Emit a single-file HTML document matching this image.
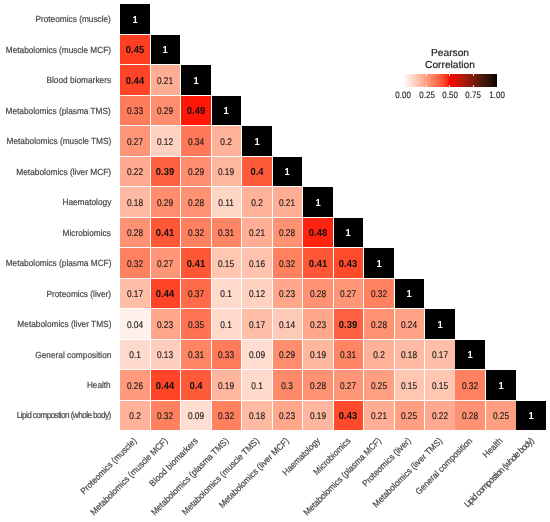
<!DOCTYPE html>
<html><head><meta charset="utf-8"><title>Pearson Correlation</title>
<style>
html,body{margin:0;padding:0;background:#fff;}
body{width:550px;height:522px;position:relative;overflow:hidden;font-family:"Liberation Sans",sans-serif;text-rendering:geometricPrecision;}
.c{position:absolute;width:29.685px;height:29.685px;}
.c span{position:absolute;left:50%;white-space:nowrap;font-size:9.8px;line-height:12px;height:12px;color:#1a1a1a;transform:translateX(-50%) scaleX(0.85);-webkit-text-stroke:0.15px #1a1a1a;}
.c.b span{font-weight:bold;font-size:10.1px;color:#0d0d0d;transform:translateX(-50%) scaleX(0.93);-webkit-text-stroke:0;}
.c.d{background:#000;}
.c.d span{color:#fff;}
.yl,.xl{-webkit-text-stroke:0.2px #474747;}
.yl{position:absolute;right:439.00px;white-space:nowrap;font-size:8.9px;line-height:12px;height:12px;color:#474747;transform-origin:100% 50%;}
.xl{position:absolute;white-space:nowrap;font-size:8.9px;line-height:12px;height:12px;color:#474747;transform-origin:100% 0;transform:rotate(-45deg);}
.xl span{display:inline-block;transform-origin:100% 50%;}
.lt{-webkit-text-stroke:0.2px #1f1f1f;position:absolute;left:400px;width:100px;text-align:center;font-size:10.2px;line-height:12.2px;color:#1f1f1f;}
.bar{position:absolute;left:403.0px;top:73.6px;width:93.6px;height:13.6px;background:linear-gradient(to right,#ffffff 0.0%,#fff5f2 2.5%,#ffece5 5.0%,#ffe2d8 7.5%,#ffd9cb 10.0%,#ffcfbf 12.5%,#ffc6b2 15.0%,#ffbca6 17.5%,#ffb299 20.0%,#ffa88d 22.5%,#ff9e81 25.0%,#ff9475 27.5%,#ff8969 30.0%,#ff7e5e 32.5%,#ff7352 35.0%,#ff6846 37.5%,#ff5b3a 40.0%,#ff4d2e 42.5%,#ff3e22 45.0%,#ff2913 47.5%,#ff0000 50.0%,#f10902 52.5%,#e31004 55.0%,#d51406 57.5%,#c81708 60.0%,#bb1909 62.5%,#ad1a0a 65.0%,#a01b0b 67.5%,#931b0b 70.0%,#871b0c 72.5%,#7a1b0c 75.0%,#6e1a0c 77.5%,#62190c 80.0%,#56180b 82.5%,#4b160a 85.0%,#3f1508 87.5%,#341307 90.0%,#2a1005 92.5%,#200c03 95.0%,#150602 97.5%,#000000 100.0%);}
.tk{position:absolute;width:1px;background:#fff;opacity:.85;}
.ll{-webkit-text-stroke:0.15px #1f1f1f;position:absolute;width:30px;text-align:center;font-size:9.4px;line-height:12px;color:#1f1f1f;top:89.04px;}
.ll span{display:inline-block;transform:scaleX(0.85);}
</style></head><body>

<div class="c b d" style="left:120.15px;top:4.25px"><span style="top:10.55px">1</span></div>
<div class="c b" style="left:120.15px;top:34.73px;background:#ff3e22"><span style="top:10.07px">0.45</span></div>
<div class="c b d" style="left:150.64px;top:34.73px"><span style="top:10.07px">1</span></div>
<div class="c b" style="left:120.15px;top:65.22px;background:#ff4427"><span style="top:10.58px">0.44</span></div>
<div class="c" style="left:150.64px;top:65.22px;background:#ffae95"><span style="top:10.68px">0.21</span></div>
<div class="c b d" style="left:181.12px;top:65.22px"><span style="top:10.58px">1</span></div>
<div class="c" style="left:120.15px;top:95.70px;background:#ff7c5b"><span style="top:10.20px">0.33</span></div>
<div class="c" style="left:150.64px;top:95.70px;background:#ff8d6e"><span style="top:10.20px">0.29</span></div>
<div class="c b" style="left:181.12px;top:95.70px;background:#ff1708"><span style="top:10.10px">0.49</span></div>
<div class="c b d" style="left:211.60px;top:95.70px"><span style="top:10.10px">1</span></div>
<div class="c" style="left:120.15px;top:126.19px;background:#ff9678"><span style="top:10.71px">0.27</span></div>
<div class="c" style="left:150.64px;top:126.19px;background:#ffd1c1"><span style="top:10.71px">0.12</span></div>
<div class="c" style="left:181.12px;top:126.19px;background:#ff7857"><span style="top:10.71px">0.34</span></div>
<div class="c" style="left:211.60px;top:126.19px;background:#ffb299"><span style="top:10.71px">0.2</span></div>
<div class="c b d" style="left:242.09px;top:126.19px"><span style="top:10.61px">1</span></div>
<div class="c" style="left:120.15px;top:156.68px;background:#ffaa90"><span style="top:10.23px">0.22</span></div>
<div class="c b" style="left:150.64px;top:156.68px;background:#ff603f"><span style="top:10.13px">0.39</span></div>
<div class="c" style="left:181.12px;top:156.68px;background:#ff8d6e"><span style="top:10.23px">0.29</span></div>
<div class="c" style="left:211.60px;top:156.68px;background:#ffb69e"><span style="top:10.23px">0.19</span></div>
<div class="c b" style="left:242.09px;top:156.68px;background:#ff5b3a"><span style="top:10.13px">0.4</span></div>
<div class="c b d" style="left:272.57px;top:156.68px"><span style="top:10.13px">1</span></div>
<div class="c" style="left:120.15px;top:187.16px;background:#ffbaa3"><span style="top:10.74px">0.18</span></div>
<div class="c" style="left:150.64px;top:187.16px;background:#ff8d6e"><span style="top:10.74px">0.29</span></div>
<div class="c" style="left:181.12px;top:187.16px;background:#ff9273"><span style="top:10.74px">0.28</span></div>
<div class="c" style="left:211.60px;top:187.16px;background:#ffd5c6"><span style="top:10.74px">0.11</span></div>
<div class="c" style="left:242.09px;top:187.16px;background:#ffb299"><span style="top:10.74px">0.2</span></div>
<div class="c" style="left:272.57px;top:187.16px;background:#ffae95"><span style="top:10.74px">0.21</span></div>
<div class="c b d" style="left:303.06px;top:187.16px"><span style="top:10.64px">1</span></div>
<div class="c" style="left:120.15px;top:217.64px;background:#ff9273"><span style="top:10.26px">0.28</span></div>
<div class="c b" style="left:150.64px;top:217.64px;background:#ff5636"><span style="top:10.16px">0.41</span></div>
<div class="c" style="left:181.12px;top:217.64px;background:#ff8160"><span style="top:10.26px">0.32</span></div>
<div class="c" style="left:211.60px;top:217.64px;background:#ff8565"><span style="top:10.26px">0.31</span></div>
<div class="c" style="left:242.09px;top:217.64px;background:#ffae95"><span style="top:10.26px">0.21</span></div>
<div class="c" style="left:272.57px;top:217.64px;background:#ff9273"><span style="top:10.26px">0.28</span></div>
<div class="c b" style="left:303.06px;top:217.64px;background:#ff2410"><span style="top:10.16px">0.48</span></div>
<div class="c b d" style="left:333.54px;top:217.64px"><span style="top:10.16px">1</span></div>
<div class="c" style="left:120.15px;top:248.13px;background:#ff8160"><span style="top:10.77px">0.32</span></div>
<div class="c" style="left:150.64px;top:248.13px;background:#ff9678"><span style="top:10.77px">0.27</span></div>
<div class="c b" style="left:181.12px;top:248.13px;background:#ff5636"><span style="top:10.67px">0.41</span></div>
<div class="c" style="left:211.60px;top:248.13px;background:#ffc6b2"><span style="top:10.77px">0.15</span></div>
<div class="c" style="left:242.09px;top:248.13px;background:#ffc2ad"><span style="top:10.77px">0.16</span></div>
<div class="c" style="left:272.57px;top:248.13px;background:#ff8160"><span style="top:10.77px">0.32</span></div>
<div class="c b" style="left:303.06px;top:248.13px;background:#ff5636"><span style="top:10.67px">0.41</span></div>
<div class="c b" style="left:333.54px;top:248.13px;background:#ff4a2c"><span style="top:10.67px">0.43</span></div>
<div class="c b d" style="left:364.03px;top:248.13px"><span style="top:10.67px">1</span></div>
<div class="c" style="left:120.15px;top:278.62px;background:#ffbea8"><span style="top:10.29px">0.17</span></div>
<div class="c b" style="left:150.64px;top:278.62px;background:#ff4427"><span style="top:10.19px">0.44</span></div>
<div class="c" style="left:181.12px;top:278.62px;background:#ff6a49"><span style="top:10.29px">0.37</span></div>
<div class="c" style="left:211.60px;top:278.62px;background:#ffd9cb"><span style="top:10.29px">0.1</span></div>
<div class="c" style="left:242.09px;top:278.62px;background:#ffd1c1"><span style="top:10.29px">0.12</span></div>
<div class="c" style="left:272.57px;top:278.62px;background:#ffa68b"><span style="top:10.29px">0.23</span></div>
<div class="c" style="left:303.06px;top:278.62px;background:#ff9273"><span style="top:10.29px">0.28</span></div>
<div class="c" style="left:333.54px;top:278.62px;background:#ff9678"><span style="top:10.29px">0.27</span></div>
<div class="c" style="left:364.03px;top:278.62px;background:#ff8160"><span style="top:10.29px">0.32</span></div>
<div class="c b d" style="left:394.51px;top:278.62px"><span style="top:10.19px">1</span></div>
<div class="c" style="left:120.15px;top:309.10px;background:#fff0ea"><span style="top:10.80px">0.04</span></div>
<div class="c" style="left:150.64px;top:309.10px;background:#ffa68b"><span style="top:10.80px">0.23</span></div>
<div class="c" style="left:181.12px;top:309.10px;background:#ff7352"><span style="top:10.80px">0.35</span></div>
<div class="c" style="left:211.60px;top:309.10px;background:#ffd9cb"><span style="top:10.80px">0.1</span></div>
<div class="c" style="left:242.09px;top:309.10px;background:#ffbea8"><span style="top:10.80px">0.17</span></div>
<div class="c" style="left:272.57px;top:309.10px;background:#ffc9b7"><span style="top:10.80px">0.14</span></div>
<div class="c" style="left:303.06px;top:309.10px;background:#ffa68b"><span style="top:10.80px">0.23</span></div>
<div class="c b" style="left:333.54px;top:309.10px;background:#ff603f"><span style="top:10.70px">0.39</span></div>
<div class="c" style="left:364.03px;top:309.10px;background:#ff9273"><span style="top:10.80px">0.28</span></div>
<div class="c" style="left:394.51px;top:309.10px;background:#ffa286"><span style="top:10.80px">0.24</span></div>
<div class="c b d" style="left:425.00px;top:309.10px"><span style="top:10.70px">1</span></div>
<div class="c" style="left:120.15px;top:339.58px;background:#ffd9cb"><span style="top:10.32px">0.1</span></div>
<div class="c" style="left:150.64px;top:339.58px;background:#ffcdbc"><span style="top:10.32px">0.13</span></div>
<div class="c" style="left:181.12px;top:339.58px;background:#ff8565"><span style="top:10.32px">0.31</span></div>
<div class="c" style="left:211.60px;top:339.58px;background:#ff7c5b"><span style="top:10.32px">0.33</span></div>
<div class="c" style="left:242.09px;top:339.58px;background:#ffddd0"><span style="top:10.32px">0.09</span></div>
<div class="c" style="left:272.57px;top:339.58px;background:#ff8d6e"><span style="top:10.32px">0.29</span></div>
<div class="c" style="left:303.06px;top:339.58px;background:#ffb69e"><span style="top:10.32px">0.19</span></div>
<div class="c" style="left:333.54px;top:339.58px;background:#ff8565"><span style="top:10.32px">0.31</span></div>
<div class="c" style="left:364.03px;top:339.58px;background:#ffb299"><span style="top:10.32px">0.2</span></div>
<div class="c" style="left:394.51px;top:339.58px;background:#ffbaa3"><span style="top:10.32px">0.18</span></div>
<div class="c" style="left:425.00px;top:339.58px;background:#ffbea8"><span style="top:10.32px">0.17</span></div>
<div class="c b d" style="left:455.48px;top:339.58px"><span style="top:10.22px">1</span></div>
<div class="c" style="left:120.15px;top:370.07px;background:#ff9a7c"><span style="top:10.83px">0.26</span></div>
<div class="c b" style="left:150.64px;top:370.07px;background:#ff4427"><span style="top:10.73px">0.44</span></div>
<div class="c b" style="left:181.12px;top:370.07px;background:#ff5b3a"><span style="top:10.73px">0.4</span></div>
<div class="c" style="left:211.60px;top:370.07px;background:#ffb69e"><span style="top:10.83px">0.19</span></div>
<div class="c" style="left:242.09px;top:370.07px;background:#ffd9cb"><span style="top:10.83px">0.1</span></div>
<div class="c" style="left:272.57px;top:370.07px;background:#ff8969"><span style="top:10.83px">0.3</span></div>
<div class="c" style="left:303.06px;top:370.07px;background:#ff9273"><span style="top:10.83px">0.28</span></div>
<div class="c" style="left:333.54px;top:370.07px;background:#ff9678"><span style="top:10.83px">0.27</span></div>
<div class="c" style="left:364.03px;top:370.07px;background:#ff9e81"><span style="top:10.83px">0.25</span></div>
<div class="c" style="left:394.51px;top:370.07px;background:#ffc6b2"><span style="top:10.83px">0.15</span></div>
<div class="c" style="left:425.00px;top:370.07px;background:#ffc6b2"><span style="top:10.83px">0.15</span></div>
<div class="c" style="left:455.48px;top:370.07px;background:#ff8160"><span style="top:10.83px">0.32</span></div>
<div class="c b d" style="left:485.97px;top:370.07px"><span style="top:10.73px">1</span></div>
<div class="c" style="left:120.15px;top:400.56px;background:#ffb299"><span style="top:10.35px">0.2</span></div>
<div class="c" style="left:150.64px;top:400.56px;background:#ff8160"><span style="top:10.35px">0.32</span></div>
<div class="c" style="left:181.12px;top:400.56px;background:#ffddd0"><span style="top:10.35px">0.09</span></div>
<div class="c" style="left:211.60px;top:400.56px;background:#ff8160"><span style="top:10.35px">0.32</span></div>
<div class="c" style="left:242.09px;top:400.56px;background:#ffbaa3"><span style="top:10.35px">0.18</span></div>
<div class="c" style="left:272.57px;top:400.56px;background:#ffa68b"><span style="top:10.35px">0.23</span></div>
<div class="c" style="left:303.06px;top:400.56px;background:#ffb69e"><span style="top:10.35px">0.19</span></div>
<div class="c b" style="left:333.54px;top:400.56px;background:#ff4a2c"><span style="top:10.25px">0.43</span></div>
<div class="c" style="left:364.03px;top:400.56px;background:#ffae95"><span style="top:10.35px">0.21</span></div>
<div class="c" style="left:394.51px;top:400.56px;background:#ff9e81"><span style="top:10.35px">0.25</span></div>
<div class="c" style="left:425.00px;top:400.56px;background:#ffaa90"><span style="top:10.35px">0.22</span></div>
<div class="c" style="left:455.48px;top:400.56px;background:#ff9273"><span style="top:10.35px">0.28</span></div>
<div class="c" style="left:485.97px;top:400.56px;background:#ff9e81"><span style="top:10.35px">0.25</span></div>
<div class="c b d" style="left:516.46px;top:400.56px"><span style="top:10.25px">1</span></div>
<div class="yl" style="top:13.22px;transform:scaleX(0.933)">Proteomics (muscle)</div>
<div class="yl" style="top:44.22px;transform:scaleX(0.931)">Metabolomics (muscle MCF)</div>
<div class="yl" style="top:74.22px;transform:scaleX(0.935)">Blood biomarkers</div>
<div class="yl" style="top:105.22px;transform:scaleX(0.933)">Metabolomics (plasma TMS)</div>
<div class="yl" style="top:135.22px;transform:scaleX(0.933)">Metabolomics (muscle TMS)</div>
<div class="yl" style="top:166.22px;transform:scaleX(0.938)">Metabolomics (liver MCF)</div>
<div class="yl" style="top:196.22px;transform:scaleX(0.935)">Haematology</div>
<div class="yl" style="top:227.22px;transform:scaleX(0.931)">Microbiomics</div>
<div class="yl" style="top:257.22px;transform:scaleX(0.932)">Metabolomics (plasma MCF)</div>
<div class="yl" style="top:288.22px;transform:scaleX(0.936)">Proteomics (liver)</div>
<div class="yl" style="top:318.22px;transform:scaleX(0.937)">Metabolomics (liver TMS)</div>
<div class="yl" style="top:349.22px;transform:scaleX(0.936)">General composition</div>
<div class="yl" style="top:379.22px;transform:scaleX(0.924)">Health</div>
<div class="yl" style="top:409.22px;transform:scaleX(0.933);letter-spacing:-0.661px">Lipid compostion (whole body)</div>
<div class="xl" style="right:418.91px;top:435.30px"><span style="transform:scaleX(0.933)">Proteomics (muscle)</span></div>
<div class="xl" style="right:388.42px;top:435.30px"><span style="transform:scaleX(0.931)">Metabolomics (muscle MCF)</span></div>
<div class="xl" style="right:357.94px;top:435.30px"><span style="transform:scaleX(0.935)">Blood biomarkers</span></div>
<div class="xl" style="right:327.45px;top:435.30px"><span style="transform:scaleX(0.933)">Metabolomics (plasma TMS)</span></div>
<div class="xl" style="right:296.97px;top:435.30px"><span style="transform:scaleX(0.933)">Metabolomics (muscle TMS)</span></div>
<div class="xl" style="right:266.48px;top:435.30px"><span style="transform:scaleX(0.938)">Metabolomics (liver MCF)</span></div>
<div class="xl" style="right:236.00px;top:435.30px"><span style="transform:scaleX(0.935)">Haematology</span></div>
<div class="xl" style="right:205.51px;top:435.30px"><span style="transform:scaleX(0.931)">Microbiomics</span></div>
<div class="xl" style="right:175.03px;top:435.30px"><span style="transform:scaleX(0.932)">Metabolomics (plasma MCF)</span></div>
<div class="xl" style="right:144.54px;top:435.30px"><span style="transform:scaleX(0.936)">Proteomics (liver)</span></div>
<div class="xl" style="right:114.06px;top:435.30px"><span style="transform:scaleX(0.937)">Metabolomics (liver TMS)</span></div>
<div class="xl" style="right:83.57px;top:435.30px"><span style="transform:scaleX(0.936)">General composition</span></div>
<div class="xl" style="right:53.09px;top:435.30px"><span style="transform:scaleX(0.924)">Health</span></div>
<div class="xl" style="right:22.60px;top:435.30px"><span style="transform:scaleX(0.933);letter-spacing:-0.661px">Lipid compostion (whole body)</span></div>
<div class="lt" style="top:47.6px">Pearson<br>Correlation</div>
<div class="bar"></div>
<div class="tk" style="left:426.1px;top:73.6px;height:2.7px"></div>
<div class="tk" style="left:426.1px;top:84.5px;height:2.7px"></div>
<div class="tk" style="left:448.8px;top:73.6px;height:2.7px"></div>
<div class="tk" style="left:448.8px;top:84.5px;height:2.7px"></div>
<div class="tk" style="left:472.7px;top:73.6px;height:2.7px"></div>
<div class="tk" style="left:472.7px;top:84.5px;height:2.7px"></div>
<div class="ll" style="left:388.4px"><span>0.00</span></div>
<div class="ll" style="left:411.8px"><span>0.25</span></div>
<div class="ll" style="left:435.2px"><span>0.50</span></div>
<div class="ll" style="left:458.6px"><span>0.75</span></div>
<div class="ll" style="left:482.0px"><span>1.00</span></div>
</body></html>
